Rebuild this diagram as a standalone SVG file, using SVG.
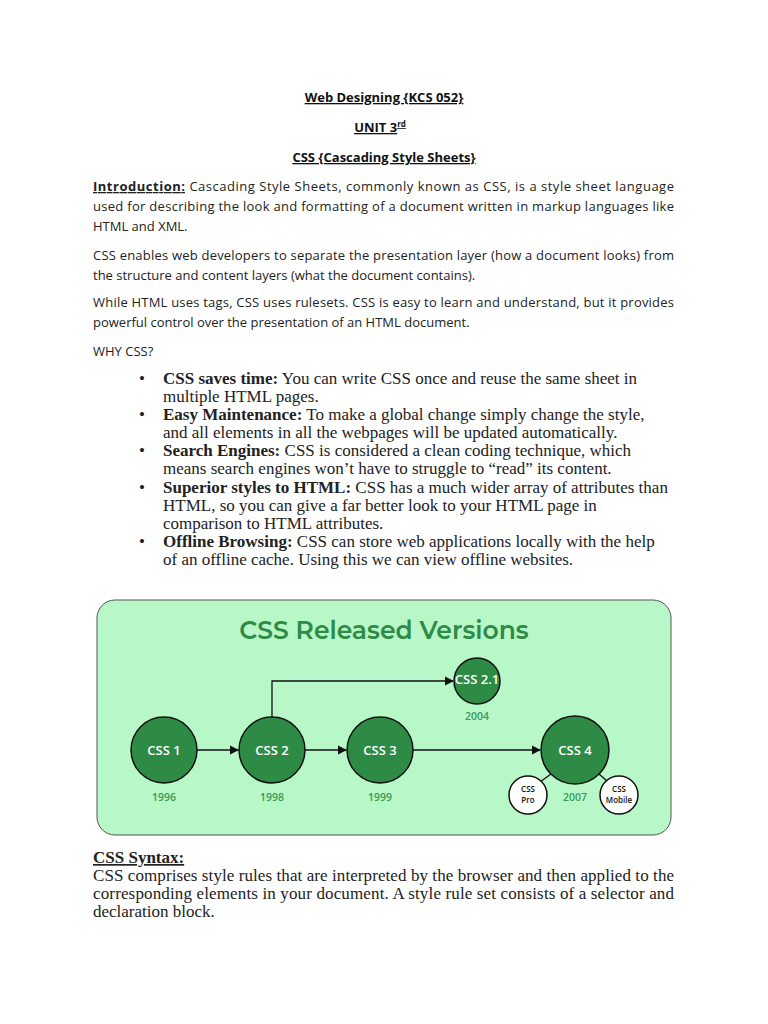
<svg xmlns="http://www.w3.org/2000/svg" width="768" height="1024" viewBox="0 0 768 1024">
<style>
.h{font-family:"Open Sans","Noto Sans",sans-serif;font-size:13px;font-weight:bold;text-anchor:middle;text-decoration:underline;fill:#111}
.p{font-family:"Open Sans","Noto Sans",sans-serif;font-size:13px;fill:#222}
.s{font-family:"Liberation Serif",serif;font-size:17px;fill:#222}
.b{font-weight:bold}
.c{fill:#2e8b45;stroke:#111;stroke-width:1.5}
.w{fill:#fff;stroke:#111;stroke-width:1.5}
.ct{font-family:"Open Sans","Noto Sans",sans-serif;font-size:13px;font-weight:600;fill:#fff;text-anchor:middle}
.yr{font-family:"Open Sans","Noto Sans",sans-serif;font-size:10.5px;font-weight:600;fill:#3a9a55;text-anchor:middle}
.sm{font-family:"Open Sans","Noto Sans",sans-serif;font-size:8px;font-weight:600;fill:#111;text-anchor:middle}
.ln{stroke:#111;stroke-width:1.3;fill:none}
</style>
<defs><marker id="a" viewBox="0 0 10 10" refX="9" refY="5" markerWidth="7" markerHeight="7" orient="auto"><path d="M0,0L10,5L0,10z" fill="#111"/></marker></defs>
<rect width="768" height="1024" fill="#fff"/>
<text class="h" x="384" y="102">Web Designing {KCS 052}</text>
<text class="h" x="380" y="132">UNIT 3<tspan font-size="8" dy="-5">rd</tspan></text>
<text class="h" x="384" y="162">CSS {Cascading Style Sheets}</text>
<text class="p" x="93" y="191" textLength="581" lengthAdjust="spacing"><tspan class="b" text-decoration="underline">Introduction:</tspan> Cascading Style Sheets, commonly known as CSS, is a style sheet language</text>
<text class="p" x="93" y="211" textLength="581" lengthAdjust="spacing">used for describing the look and formatting of a document written in markup languages like</text>
<text class="p" x="93" y="231">HTML and XML.</text>
<text class="p" x="93" y="260" textLength="581" lengthAdjust="spacing">CSS enables web developers to separate the presentation layer (how a document looks) from</text>
<text class="p" x="93" y="280">the structure and content layers (what the document contains).</text>
<text class="p" x="93" y="307" textLength="581" lengthAdjust="spacing">While HTML uses tags, CSS uses rulesets. CSS is easy to learn and understand, but it provides</text>
<text class="p" x="93" y="327">powerful control over the presentation of an HTML document.</text>
<text class="p" x="93" y="356">WHY CSS?</text>
<g class="s">
<text x="139" y="384">•</text><text x="163" y="384"><tspan class="b">CSS saves time:</tspan> You can write CSS once and reuse the same sheet in</text>
<text x="163" y="402">multiple HTML pages.</text>
<text x="139" y="420">•</text><text x="163" y="420"><tspan class="b">Easy Maintenance:</tspan> To make a global change simply change the style,</text>
<text x="163" y="438">and all elements in all the webpages will be updated automatically.</text>
<text x="139" y="456">•</text><text x="163" y="456"><tspan class="b">Search Engines:</tspan> CSS is considered a clean coding technique, which</text>
<text x="163" y="474">means search engines won’t have to struggle to “read” its content.</text>
<text x="139" y="493">•</text><text x="163" y="493"><tspan class="b">Superior styles to HTML:</tspan> CSS has a much wider array of attributes than</text>
<text x="163" y="511">HTML, so you can give a far better look to your HTML page in</text>
<text x="163" y="529">comparison to HTML attributes.</text>
<text x="139" y="547">•</text><text x="163" y="547"><tspan class="b">Offline Browsing:</tspan> CSS can store web applications locally with the help</text>
<text x="163" y="565">of an offline cache. Using this we can view offline websites.</text>
</g>
<rect x="97" y="600" width="574" height="235" rx="18" fill="#b8f7c8" stroke="#555" stroke-width="1"/>
<text x="384" y="639" font-family="Montserrat,'Open Sans',sans-serif" font-size="25" font-weight="600" fill="#2e8b45" text-anchor="middle">CSS Released Versions</text>
<g id="connectors">
<line class="ln" x1="197" y1="750" x2="238" y2="750" marker-end="url(#a)"/>
<line class="ln" x1="305" y1="750" x2="346" y2="750" marker-end="url(#a)"/>
<line class="ln" x1="413" y1="750" x2="540" y2="750" marker-end="url(#a)"/>
<polyline class="ln" points="272,717 272,681 453,681" marker-end="url(#a)"/>
<line class="ln" x1="551" y1="774" x2="540" y2="782"/>
<line class="ln" x1="599" y1="774" x2="607" y2="781"/>
</g>
<g id="css1"><circle class="c" cx="164" cy="750" r="33"/><text class="ct" x="164" y="755">CSS 1</text><text class="yr" x="164" y="801">1996</text></g>
<g id="css2"><circle class="c" cx="272" cy="750" r="33"/><text class="ct" x="272" y="755">CSS 2</text><text class="yr" x="272" y="801">1998</text></g>
<g id="css3"><circle class="c" cx="380" cy="750" r="33"/><text class="ct" x="380" y="755">CSS 3</text><text class="yr" x="380" y="801">1999</text></g>
<g id="css4"><circle class="c" cx="575" cy="750" r="34"/><text class="ct" x="575" y="755">CSS 4</text><text class="yr" x="575" y="801">2007</text></g>
<g id="css21"><circle class="c" cx="477" cy="681" r="23"/><text class="ct" x="477" y="684" font-size="9">CSS 2.1</text><text class="yr" x="477" y="720">2004</text></g>
<g id="csspro"><circle class="w" cx="528" cy="795" r="19"/><text class="sm" x="528" y="792">CSS</text><text class="sm" x="528" y="803">Pro</text></g>
<g id="cssmobile"><circle class="w" cx="619" cy="795" r="19"/><text class="sm" x="619" y="792">CSS</text><text class="sm" x="619" y="803">Mobile</text></g>
<text class="s" x="93" y="863" font-weight="bold" text-decoration="underline">CSS Syntax:</text>
<text class="s" x="93" y="881" textLength="581" lengthAdjust="spacing">CSS comprises style rules that are interpreted by the browser and then applied to the</text>
<text class="s" x="93" y="899" textLength="581" lengthAdjust="spacing">corresponding elements in your document. A style rule set consists of a selector and</text>
<text class="s" x="93" y="917">declaration block.</text>
</svg>
